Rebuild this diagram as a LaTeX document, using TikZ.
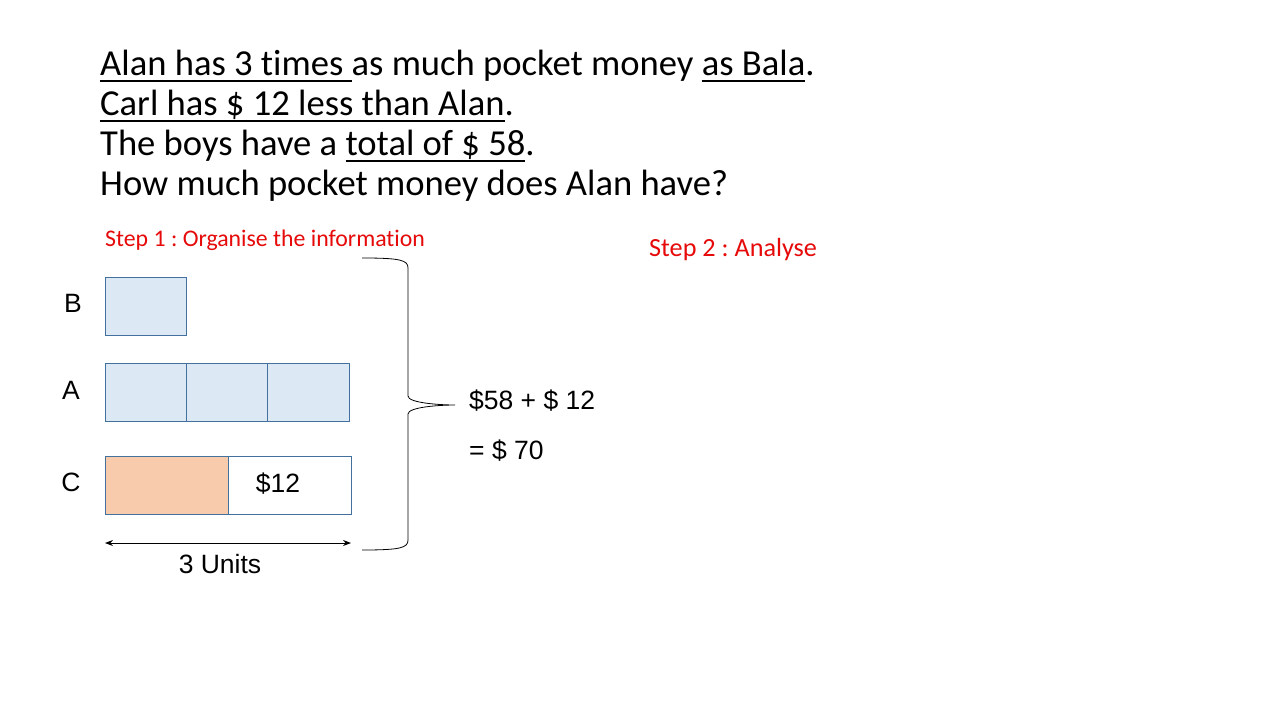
\documentclass[tikz,border=0pt]{standalone}
\usepackage{fontspec}
\setmainfont{Carlito}[Ligatures=NoCommon]
\newfontfamily\arialfont{Liberation Sans}
\newcommand{\lineunder}[1]{\setbox0\hbox{#1}\rlap{\rule[-6.5pt]{\wd0}{1.6pt}}\box0}
\frenchspacing
\usetikzlibrary{arrows.meta,positioning}
\definecolor{unitblue}{RGB}{221,232,245}
\definecolor{unitedge}{RGB}{65,113,156}
\definecolor{carlfill}{RGB}{248,203,173}
\definecolor{stepred}{RGB}{230,10,10}

\begin{document}
\begin{tikzpicture}[x=1pt,y=-1pt,
  unit/.style={draw=unitedge,fill=unitblue,line width=0.8pt,inner sep=0pt,
    minimum width=81pt,minimum height=58pt,anchor=north west},
  question/.style={anchor=base west,inner sep=0pt,font=\fontsize{36.6}{40}\selectfont},
  steplabel/.style={anchor=base west,inner sep=0pt,text=stepred},
  barlabel/.style={inner sep=0pt,font=\arialfont\fontsize{26.5}{30}\selectfont}]
  \useasboundingbox[fill=white] (0,0) rectangle (1280,720);

  % the question
  \node[question] (q1) at (100,75) {\lineunder{Alan has 3 times\ }as much pocket money \lineunder{as Bala}.};
  \node[question] (q2) at (100,115) {\lineunder{Carl has \$ 12 less than Alan}.};
  \node[question] (q3) at (100,155) {The boys have a \lineunder{total of \$ 58}.};
  \node[question] (q4) at (100,195) {How much pocket money does Alan have?};

  \node[steplabel,font=\fontsize{23.8}{26}\selectfont] (step1) at (105,246) {Step 1 : Organise the information};
  \node[steplabel,font=\fontsize{26.2}{28}\selectfont] (step2) at (649,256) {Step 2 : Analyse};

  % bars
  \node[unit] (b1) at (105,277) {};
  \node[unit] (a1) at (105,363) {};
  \node[unit] (a2) at (186,363) {};
  \node[unit,minimum width=82pt] (a3) at (267,363) {};
  \node[unit,fill=carlfill,minimum width=123pt] (c1) at (105,456) {};
  \node[unit,fill=white,minimum width=123pt] (c2) at (228,456) {};
  \node[barlabel] (twelve) at (278,484) {\$12};

  \node[barlabel] (lb) at (73,303) {B};
  \node[barlabel] (la) at (71,390) {A};
  \node[barlabel] (lc) at (71,482) {C};

  \coordinate (ul) at (105,543);
  \coordinate (ur) at (351,543);
  \draw[{Stealth[length=8pt,width=6pt]}-{Stealth[length=8pt,width=6pt]},line width=0.8pt] (ul) -- (ur);
  \node[barlabel] (units) at (220,564) {3 Units};

  % brace
  \coordinate (brtop) at (362,258);
  \coordinate (brtip) at (455,405);
  \coordinate (brbot) at (362,550);
  \draw[line width=0.8pt] (brtop) .. controls (400,258) and (408,260) .. (408,268) -- (408,396)
    .. controls (408,403) and (440,405) .. (brtip)
    .. controls (440,405) and (408,407) .. (408,414) -- (408,540)
    .. controls (408,548) and (400,550) .. (brbot);

  \node[barlabel,anchor=base west] (sum) at (469,409) {\$58 + \$ 12};
  \node[barlabel,anchor=base west] (res) at (469,459) {= \$ 70};
\end{tikzpicture}
\end{document}
